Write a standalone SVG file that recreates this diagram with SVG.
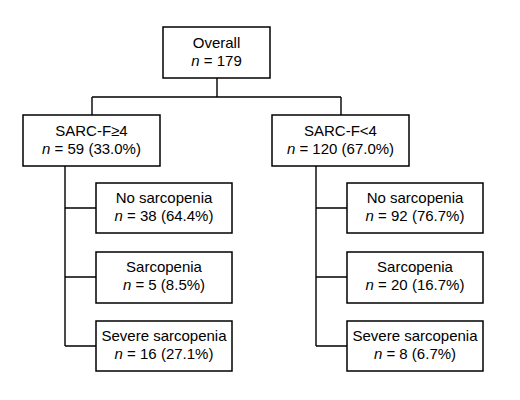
<svg xmlns="http://www.w3.org/2000/svg" width="520" height="400" viewBox="0 0 520 400">
<style>
.box{fill:#fff;stroke:#000;stroke-width:1.5}
.ln{fill:none;stroke:#000;stroke-width:1.4}
text{font-family:"Liberation Sans",Arial,sans-serif;font-size:15px;fill:#000;text-anchor:middle}
.i{font-style:italic}
</style>
<rect width="520" height="400" fill="#fff"/>
<g id="connectors">
<path class="ln" d="M217,78V97M92,97H341M92,97V115M341,97V115"/>
<path class="ln" d="M65,166V346M65,208H96M65,277H96M65,346H96"/>
<path class="ln" d="M316,166V346M316,208H347M316,277H347M316,346H347"/>
</g>
<g id="overall"><rect class="box" x="163" y="27" width="107" height="51"/>
<text x="216.5" y="48">Overall</text><text x="216.5" y="66"><tspan class="i">n</tspan> = 179</text></g>
<g id="sarcf_ge4"><rect class="box" x="23" y="115" width="137" height="51"/>
<text x="91.5" y="136">SARC-F≥4</text><text x="91.5" y="154"><tspan class="i">n</tspan> = 59 (33.0%)</text></g>
<g id="sarcf_lt4"><rect class="box" x="272" y="115" width="137" height="51"/>
<text x="340.5" y="136">SARC-F&lt;4</text><text x="340.5" y="154"><tspan class="i">n</tspan> = 120 (67.0%)</text></g>
<g id="l_no"><rect class="box" x="96" y="183" width="136" height="50"/>
<text x="164" y="203">No sarcopenia</text><text x="164" y="221"><tspan class="i">n</tspan> = 38 (64.4%)</text></g>
<g id="l_sarc"><rect class="box" x="96" y="252" width="136" height="51"/>
<text x="164" y="272">Sarcopenia</text><text x="164" y="290"><tspan class="i">n</tspan> = 5 (8.5%)</text></g>
<g id="l_sev"><rect class="box" x="96" y="321" width="136" height="50"/>
<text x="164" y="341">Severe sarcopenia</text><text x="164" y="359"><tspan class="i">n</tspan> = 16 (27.1%)</text></g>
<g id="r_no"><rect class="box" x="347" y="183" width="136" height="50"/>
<text x="415" y="203">No sarcopenia</text><text x="415" y="221"><tspan class="i">n</tspan> = 92 (76.7%)</text></g>
<g id="r_sarc"><rect class="box" x="347" y="252" width="136" height="51"/>
<text x="415" y="272">Sarcopenia</text><text x="415" y="290"><tspan class="i">n</tspan> = 20 (16.7%)</text></g>
<g id="r_sev"><rect class="box" x="347" y="321" width="136" height="50"/>
<text x="415" y="341">Severe sarcopenia</text><text x="415" y="359"><tspan class="i">n</tspan> = 8 (6.7%)</text></g>
</svg>
